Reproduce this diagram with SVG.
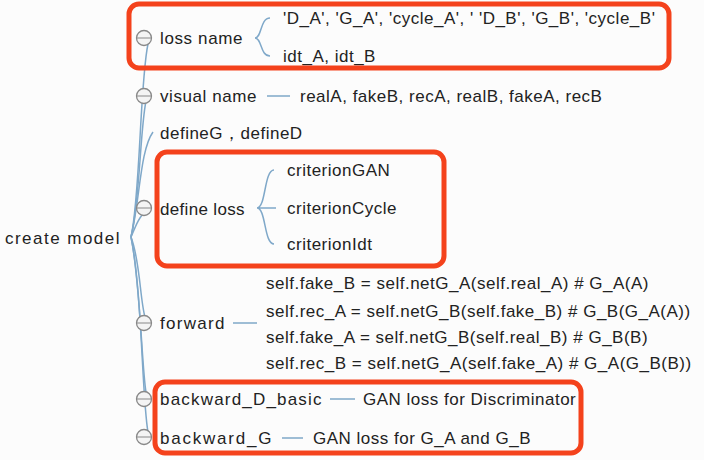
<svg xmlns="http://www.w3.org/2000/svg" width="704" height="460" viewBox="0 0 704 460">
<style>
text{font-family:"Liberation Sans",Arial,sans-serif;font-size:17px;letter-spacing:0.5px;fill:#222;dominant-baseline:central}
.c{fill:none;stroke:#7fa8c9;stroke-width:1.5}
.k{fill:#f4f4f4;stroke:#888;stroke-width:1.3}
.r{fill:none;stroke:#f4421c;stroke-width:5}
</style>
<rect width="704" height="460" fill="#fcfcfc"/>
<g id="connectors">
<path class="c" d="M131 237 C140 200,140 80,148 44"/>
<path class="c" d="M131 237 C140 200,140 130,146 101"/>
<path class="c" d="M131 237 C140 200,140 150,153 132"/>
<path class="c" d="M131 237 C136 225,140 215,145 213"/>
<path class="c" d="M131 237 C140 260,140 300,145 317"/>
<path class="c" d="M131 237 C140 280,142 370,146 392"/>
<path class="c" d="M131 237 C142 290,142 400,148 432"/>
<path class="c" d="M270 18 C260 18,262 38,255 38 C262 38,260 56,270 56"/>
<path class="c" d="M267 96 H290"/>
<path class="c" d="M274 170 C264 170,266 208,257 208 C266 208,264 244,274 244 M257 208 H276"/>
<path class="c" d="M233 323 H257"/>
<path class="c" d="M330 399 H355"/>
<path class="c" d="M282 438 H303"/>
</g>
<g id="root"><text x="5" y="238" textLength="115">create model</text></g>
<g id="lossname"><circle class="k" cx="144" cy="38" r="7.5"/><path d="M137 38H151" stroke="#888"/><text x="160" y="38" textLength="83">loss name</text>
<text x="283" y="18">'D_A', 'G_A', 'cycle_A', ' 'D_B', 'G_B', 'cycle_B'</text><text x="283" y="56">idt_A, idt_B</text></g>
<g id="visual"><circle class="k" cx="144" cy="96" r="7.5"/><path d="M137 96H151" stroke="#888"/><text x="160" y="96" textLength="97">visual name</text><text x="300" y="96">realA, fakeB, recA, realB, fakeA, recB</text></g>
<g id="define"><text x="160" y="133">defineG，defineD</text></g>
<g id="defloss"><circle class="k" cx="144" cy="208" r="7.5"/><path d="M137 208H151" stroke="#888"/><text x="160" y="209" textLength="85">define loss</text>
<text x="287" y="170">criterionGAN</text><text x="287" y="208">criterionCycle</text><text x="287" y="244">criterionIdt</text></g>
<g id="forward"><circle class="k" cx="144" cy="323" r="7.5"/><path d="M137 323H151" stroke="#888"/><text x="160" y="323" textLength="65">forward</text>
<text x="266" y="283">self.fake_B = self.netG_A(self.real_A) # G_A(A)</text>
<text x="266" y="311">self.rec_A = self.netG_B(self.fake_B) # G_B(G_A(A))</text>
<text x="266" y="337">self.fake_A = self.netG_B(self.real_B) # G_B(B)</text>
<text x="266" y="363">self.rec_B = self.netG_A(self.fake_A) # G_A(G_B(B))</text></g>
<g id="bdb"><circle class="k" cx="144" cy="399" r="7.5"/><path d="M137 399H151" stroke="#888"/><text x="160" y="399" textLength="162">backward_D_basic</text><text x="363" y="399">GAN loss for Discriminator</text></g>
<g id="bg"><circle class="k" cx="144" cy="437" r="7.5"/><path d="M137 437H151" stroke="#888"/><text x="160" y="438" textLength="112">backward_G</text><text x="313" y="438">GAN loss for G_A and G_B</text></g>
<g id="highlights">
<rect class="r" x="129" y="4" width="540" height="64" rx="10"/>
<rect class="r" x="157" y="152" width="287" height="114" rx="10"/>
<rect class="r" x="155" y="382" width="426" height="71" rx="10"/>
</g>
</svg>
